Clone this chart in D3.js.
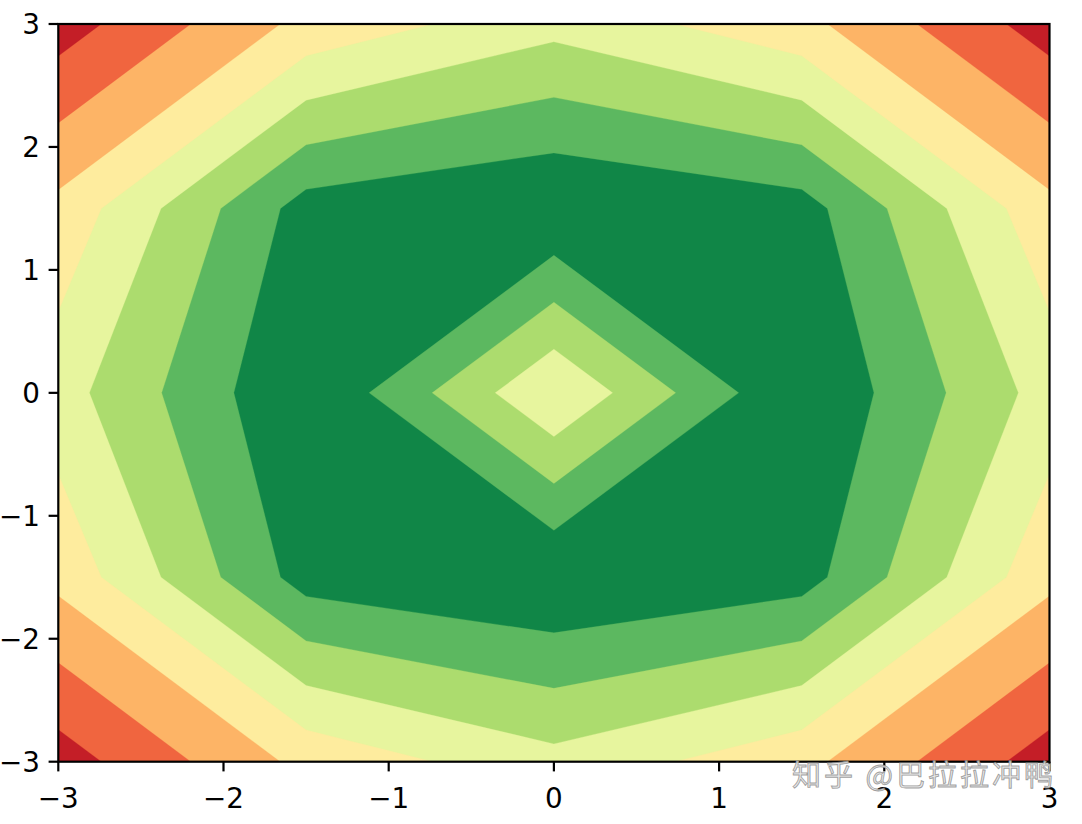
<!DOCTYPE html>
<html><head><meta charset="utf-8">
<script src="https://cdn.jsdelivr.net/npm/d3@7"></script>
<style>html,body{margin:0;padding:0;background:#fff}</style>
</head><body>
<svg id="c" width="1082" height="824"></svg>
<script>
// grid coordinates (5 x 5 coarse mesh)
const xGrid = [-3, -1.5, 0, 1.5, 3];
const yGrid = [-3, -1.5, 0, 1.5, 3];
// z values per row (row order follows yGrid)
const zRows = [
  [7.48, 4.71, 3.32, 4.71, 7.48],
  [4.72, 0.57, 0.00, 0.57, 4.72],
  [3.43, 0.00, 3.93, 0.00, 3.43],
  [4.72, 0.57, 0.00, 0.57, 4.72],
  [7.48, 4.71, 3.32, 4.71, 7.48]
];
// contour levels and band colours (RdYlGn_r, 8 bands)
const levels = [0, 1, 2, 3, 4, 5, 6, 7, 8];
const bandColors = ["#108647", "#5cb860", "#acdc6e", "#e7f59e", "#feec9e", "#fdb466", "#f0653f", "#c41e27"];
const xTicks = [-3, -2, -1, 0, 1, 2, 3];
const xTickLabels = ["\u22123", "\u22122", "\u22121", "0", "1", "2", "3"];
const yTicks = [-3, -2, -1, 0, 1, 2, 3];
const yTickLabels = ["\u22123", "\u22122", "\u22121", "0", "1", "2", "3"];
const watermark = "知乎 @巴拉拉冲鸭";

const svg = d3.select("#c");
const L = 58.3, R = 1049.5, T = 24, B = 761.7;
const x = d3.scaleLinear().domain([-3, 3]).range([L, R]);
const y = d3.scaleLinear().domain([-3, 3]).range([B, T]);

const nx = xGrid.length, ny = yGrid.length;
const values = zRows.flat();
const contours = d3.contours().size([nx, ny]).thresholds(levels.slice(0, -1))(values);
const gx = d3.scaleLinear().domain([0.5, nx - 0.5]).range([x(xGrid[0]), x(xGrid[nx - 1])]);
const gy = d3.scaleLinear().domain([0.5, ny - 0.5]).range([y(yGrid[0]), y(yGrid[ny - 1])]);
const path = d3.geoPath(d3.geoTransform({
  point(px, py) { this.stream.point(gx(px), gy(py)); }
}));

svg.append("defs").append("clipPath").attr("id", "clip")
  .append("rect").attr("x", L).attr("y", T).attr("width", R - L).attr("height", B - T);

svg.append("g").attr("clip-path", "url(#clip)")
  .selectAll("path").data(contours).join("path")
  .attr("d", path)
  .attr("fill", (d, i) => bandColors[i])
  .attr("stroke", (d, i) => bandColors[i])
  .attr("stroke-width", 0.3);

// axes frame
svg.append("rect").attr("x", L).attr("y", T).attr("width", R - L).attr("height", B - T)
  .attr("fill", "none").attr("stroke", "#000").attr("stroke-width", 2.2);

const font = "DejaVu Sans";
const fs = 27.8;
// x ticks
const gxT = svg.append("g");
xTicks.forEach((t, i) => {
  gxT.append("line").attr("x1", x(t)).attr("x2", x(t)).attr("y1", B).attr("y2", B + 9.7)
    .attr("stroke", "#000").attr("stroke-width", 2.2);
  gxT.append("text").attr("x", x(t)).attr("y", B + 46)
    .attr("text-anchor", "middle").attr("font-family", font).attr("font-size", fs)
    .attr("fill", "#000").text(xTickLabels[i]);
});
// y ticks
const gyT = svg.append("g");
yTicks.forEach((t, i) => {
  gyT.append("line").attr("x1", L - 9.7).attr("x2", L).attr("y1", y(t)).attr("y2", y(t))
    .attr("stroke", "#000").attr("stroke-width", 2.2);
  gyT.append("text").attr("x", L - 18.3).attr("y", y(t) + 10.2)
    .attr("text-anchor", "end").attr("font-family", font).attr("font-size", fs)
    .attr("fill", "#000").text(yTickLabels[i]);
});

// watermark
svg.append("text").attr("x", 792).attr("y", 786)
  .attr("font-family", "Noto Sans CJK SC").attr("font-size", 29)
  .attr("letter-spacing", 3)
  .attr("fill", "#e4e4e4").attr("fill-opacity", 0.9)
  .attr("stroke", "#8a8a8a").attr("stroke-width", 0.9).attr("stroke-opacity", 0.8)
  .text(watermark);
</script>
</body></html>
